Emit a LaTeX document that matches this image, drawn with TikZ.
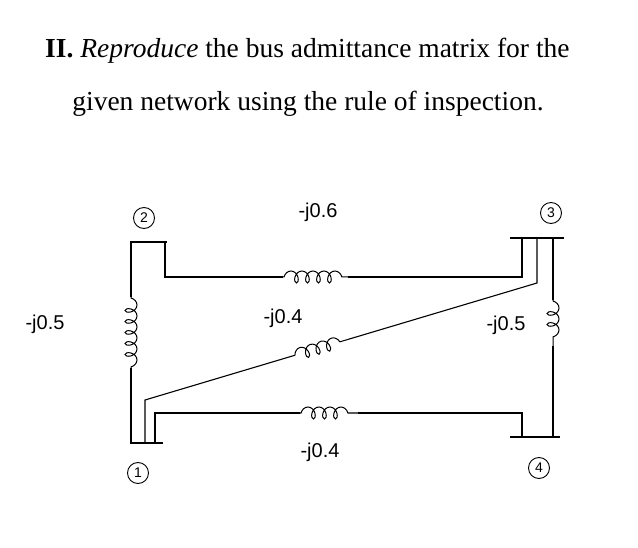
\documentclass[tikz,border=0pt]{standalone}
\usepackage{fontspec}
\setmainfont{Liberation Serif}
\newfontfamily\hand{Liberation Sans}
\usetikzlibrary{decorations.pathmorphing,calc}
\begin{document}
\begin{tikzpicture}[x=1pt,y=-1pt,
  wire/.style={line width=1.1pt},
  coilw/.style={line width=1pt,decorate,decoration={coil,aspect=0.7,segment length=11pt,amplitude=6pt,pre length=1pt,post length=1pt}},
  busbar/.style={line width=1.8pt},
  busnum/.style={circle,draw,line width=0.9pt,inner sep=1pt,minimum size=21pt,font=\hand\fontsize{14}{14}\selectfont},
  lbl/.style={font=\hand\fontsize{20}{20}\selectfont}]
\useasboundingbox (0,0) rectangle (638,548);
\node[anchor=base west,font=\fontsize{27.5}{30}\selectfont,inner sep=0] (t1) at (45,58) {\textbf{II.} \textit{Reproduce} the bus admittance matrix for the};
\node[anchor=base,font=\fontsize{27.5}{30}\selectfont,inner sep=0] (t2) at (308,111) {given network using the rule of inspection.};
% bus bars
\coordinate (b2l) at (130,242); \coordinate (b2r) at (167,242);
\coordinate (b1l) at (130,443); \coordinate (b1r) at (163,443);
\coordinate (b3l) at (510,238); \coordinate (b3r) at (564,238);
\coordinate (b4l) at (510,437); \coordinate (b4r) at (560,437);
\draw[busbar] (b2l) -- (b2r);
\draw[busbar] (b1l) -- (b1r);
\draw[busbar] (b3l) -- (b3r);
\draw[busbar] (b4l) -- (b4r);
\node[busnum] (n2) at (144,218) {2};
\node[busnum] (n1) at (138,473) {1};
\node[busnum] (n3) at (551,213) {3};
\node[busnum] (n4) at (539,468) {4};
% 1-2
\draw[wire] (131,242) -- (131,297);
\draw[coilw] (131,297) -- (131,368);
\draw[wire] (131,368) -- (131,443);
\node[lbl] (l12) at (45,324) {-j0.5};
% 2-3
\draw[wire] (165,242) -- (165,277) -- (283,277);
\draw[coilw] (283,277) -- (348,277);
\draw[wire] (348,277) -- (522,277) -- (522,238);
\node[lbl] (l23) at (318,212) {-j0.6};
% 1-3
\coordinate (d1) at (145,400); \coordinate (d3) at (537,283);
\draw[wire] (145,443) -- (d1) -- ($(d1)!0.38!(d3)$);
\draw[coilw] ($(d1)!0.38!(d3)$) -- ($(d1)!0.52!(d3)$);
\draw[wire] ($(d1)!0.52!(d3)$) -- (d3) -- (537,238);
\node[lbl] (l13) at (283,318) {-j0.4};
% 3-4
\draw[wire] (553,238) -- (553,300);
\draw[coilw] (553,300) -- (553,346);
\draw[wire] (553,346) -- (553,437);
\node[lbl] (l34) at (506,325) {-j0.5};
% 1-4
\draw[wire] (155,443) -- (155,413) -- (300,413);
\draw[coilw] (300,413) -- (358,413);
\draw[wire] (358,413) -- (522,413) -- (522,437);
\node[lbl] (l14) at (320,452) {-j0.4};
\end{tikzpicture}
\end{document}
